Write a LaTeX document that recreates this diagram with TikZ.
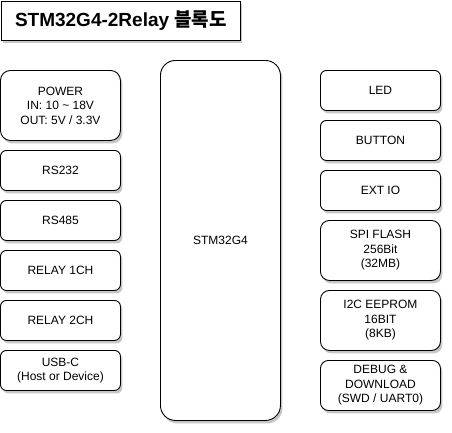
\documentclass[tikz,border=0pt]{standalone}
\usepackage{fontspec}
\setmainfont{Liberation Sans}
\newfontfamily\kr{Noto Sans CJK KR}
\usetikzlibrary{shadows}
\tikzset{
  shad/.style={drop shadow={shadow xshift=2pt,shadow yshift=-3pt,opacity=0.22,fill=black}},
  blk/.style={draw=black, line width=0.9pt, fill=white, align=center, inner sep=0pt,
    anchor=north west, font=\fontsize{12}{14.5}\selectfont, shad},
  sm/.style={blk, minimum width=120pt, minimum height=40pt, rounded corners=6pt},
  titlebox/.style={draw=black, line width=0.9pt, fill=white, inner sep=0pt, anchor=north west,
    minimum width=239pt, minimum height=39pt, font=\fontsize{19}{22}\selectfont\bfseries, shad}
}
\begin{document}
\begin{tikzpicture}[x=1pt,y=-1pt]
\useasboundingbox (0,0) rectangle (452,432);
\node[titlebox] (title) at (1,1) {STM32G4-2Relay {\kr 블록도}};
% left column
\node[blk, minimum width=120pt, minimum height=70pt, rounded corners=10pt] (power) at (0,70) {POWER\\IN: 10 \textasciitilde{} 18V\\OUT: 5V / 3.3V};
\node[sm] (rs232) at (0,150) {RS232};
\node[sm] (rs485) at (0,200) {RS485};
\node[sm] (relay1) at (0,250) {RELAY 1CH};
\node[sm] (relay2) at (0,300) {RELAY 2CH};
\node[sm] (usbc) at (0,350) {USB-C\\(Host or Device)};
% middle
\node[blk, minimum width=120pt, minimum height=360pt, rounded corners=15pt] (mcu) at (160,60) {STM32G4};
% right column
\node[sm] (led) at (320,70) {LED};
\node[sm] (button) at (320,120) {BUTTON};
\node[sm] (extio) at (320,170) {EXT IO};
\node[blk, minimum width=120pt, minimum height=60pt, rounded corners=9pt] (spi) at (320,220) {SPI FLASH\\256Bit\\(32MB)};
\node[blk, minimum width=120pt, minimum height=60pt, rounded corners=9pt] (eeprom) at (320,290) {I2C EEPROM\\16BIT\\(8KB)};
\node[blk, minimum width=120pt, minimum height=50pt, rounded corners=8pt] (debug) at (320,360) {DEBUG \&\\DOWNLOAD\\(SWD / UART0)};
\end{tikzpicture}
\end{document}
